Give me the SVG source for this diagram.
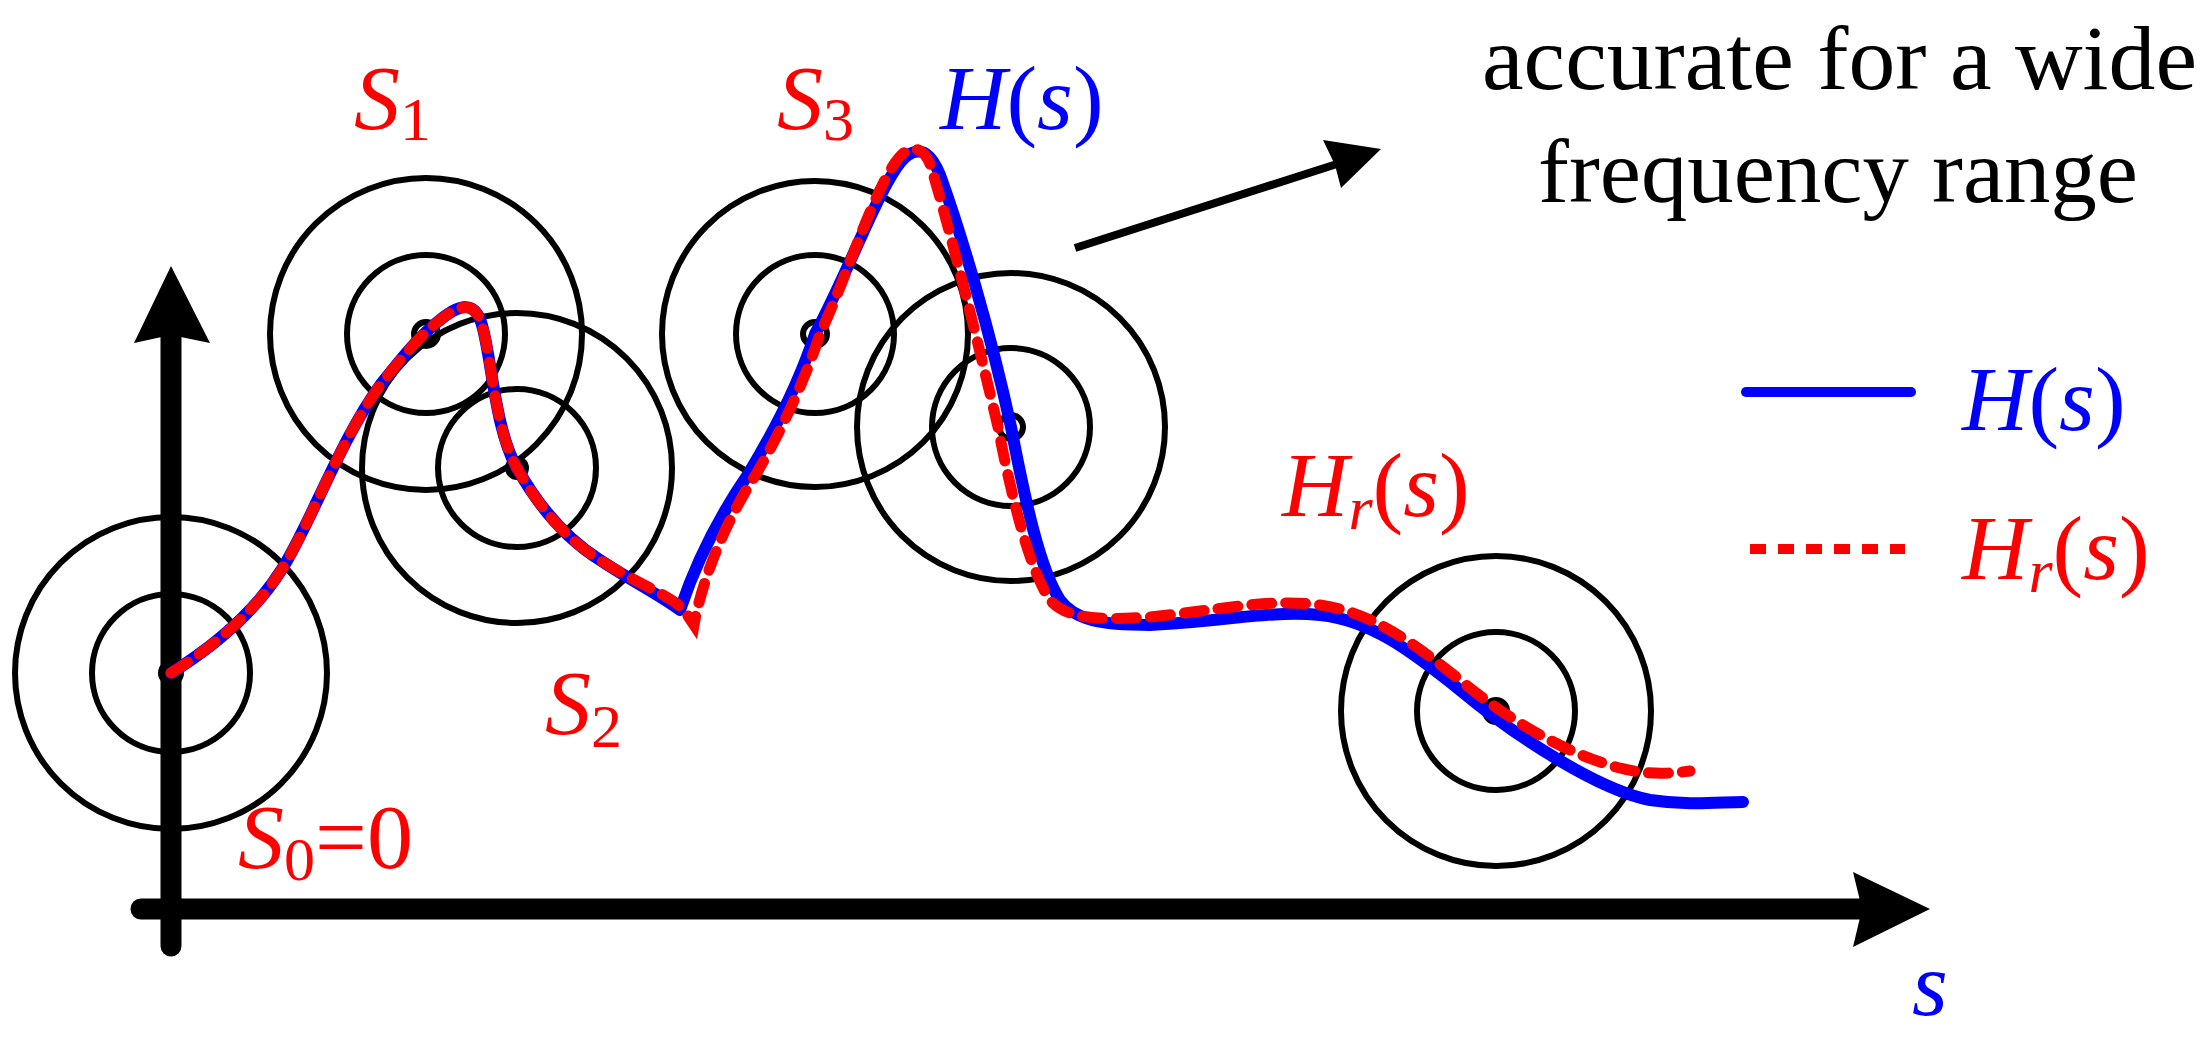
<svg xmlns="http://www.w3.org/2000/svg" width="2211" height="1037" viewBox="0 0 2211 1037">
<style>
.c{fill:none;stroke:#000;stroke-width:6}
.ax{stroke:#000;stroke-width:21;stroke-linecap:round;fill:none}
.blue{fill:none;stroke:#0000ff;stroke-width:12;stroke-linecap:round;stroke-linejoin:round}
.red{fill:none;stroke:#ff0000;stroke-width:11;stroke-dasharray:20 14;stroke-linecap:round}
.lr{fill:#ff0000}.lb{fill:#0000ff}
</style>
<rect width="2211" height="1037" fill="#fff"/>
<g id="axes">
<line class="ax" x1="171" y1="946" x2="171" y2="330"/>
<polygon points="171,266 210,343 171,335 134,343"/>
<line class="ax" x1="141" y1="909" x2="1870" y2="909"/>
<polygon points="1930,909 1853,947 1862,909 1853,872"/>
</g>
<g id="circles">
<g id="n0"><circle class="c" cx="171" cy="673" r="156"/><circle class="c" cx="171" cy="673" r="79"/><circle class="c" cx="171" cy="673" r="10"/></g>
<g id="n1"><circle class="c" cx="426" cy="334" r="156"/><circle class="c" cx="426" cy="334" r="79"/><circle class="c" cx="426" cy="334" r="12"/></g>
<g id="n2"><circle class="c" cx="517" cy="468" r="155"/><circle class="c" cx="517" cy="468" r="79"/><circle class="c" cx="517" cy="468" r="9"/></g>
<g id="n3"><circle class="c" cx="815" cy="334" r="153"/><circle class="c" cx="815" cy="334" r="79"/><circle class="c" cx="815" cy="334" r="12"/></g>
<g id="n4"><circle class="c" cx="1011" cy="427" r="154"/><circle class="c" cx="1011" cy="427" r="79"/><circle class="c" cx="1011" cy="427" r="12"/></g>
<g id="n5"><circle class="c" cx="1496" cy="711" r="155"/><circle class="c" cx="1496" cy="711" r="79"/><circle class="c" cx="1496" cy="711" r="11"/></g>
</g>
<g id="connectors">
<path class="blue" d="M171,673 C200,655 250,620 282,569 C310,525 340,440 381,384 C400,360 420,335 440,320 C460,304 475,300 482,325 C492,360 495,430 517,468 C535,500 560,535 600,560 C630,580 660,595 680,610 C690,580 710,530 747,476 C775,430 800,380 815,334 C850,270 885,170 908,155 C922,146 932,155 940,175 C960,230 990,330 1011,427 C1025,500 1040,570 1060,600 C1075,620 1100,625 1150,625 C1220,622 1270,610 1320,615 C1370,620 1410,650 1460,690 C1520,740 1600,790 1650,800 C1690,806 1720,802 1743,802"/>
<path class="red" d="M171,673 C200,655 250,620 282,569 C310,525 340,440 381,384 C400,360 420,335 440,320 C460,304 475,300 482,325 C492,360 495,430 517,468 C535,500 560,535 600,560 C630,580 670,595 684,610 L694,625 C700,590 720,530 755,476 C782,430 805,380 820,334 C850,270 880,170 905,152 C918,145 927,152 932,170 C950,230 975,330 998,427 C1012,500 1030,570 1050,600 C1068,620 1100,620 1150,617 C1220,610 1270,598 1320,605 C1370,612 1410,640 1460,680 C1520,730 1590,765 1640,772 C1665,775 1680,772 1690,771"/>
<line x1="1075" y1="248" x2="1340" y2="163" stroke="#000" stroke-width="8"/>
<polygon points="1381,149 1323,140 1335,165 1341,188"/>
<line x1="1746" y1="392" x2="1911" y2="392" stroke="#0000ff" stroke-width="10" stroke-linecap="round"/>
<line x1="1750" y1="549" x2="1905" y2="549" stroke="#ff0000" stroke-width="10" stroke-dasharray="16 12"/>
</g>
<g id="labels" font-size="92" font-family="'Liberation Serif', 'DejaVu Serif', serif">
<text x="1482" y="89" textLength="715" lengthAdjust="spacingAndGlyphs">accurate for a wide</text>
<text x="1538" y="202" textLength="600" lengthAdjust="spacingAndGlyphs">frequency range</text>
<text class="lr" x="354" y="129"><tspan font-style="italic">S</tspan><tspan font-size="62" dy="11">1</tspan></text>
<text class="lr" x="777" y="129"><tspan font-style="italic">S</tspan><tspan font-size="62" dy="11">3</tspan></text>
<text class="lb" x="940" y="129"><tspan font-style="italic">H</tspan>(<tspan font-style="italic">s</tspan>)</text>
<text class="lr" x="545" y="734"><tspan font-style="italic">S</tspan><tspan font-size="62" dy="13">2</tspan></text>
<text class="lr" x="238" y="868"><tspan font-style="italic">S</tspan><tspan font-size="62" dy="12">0</tspan><tspan dy="-12">=0</tspan></text>
<text class="lr" x="1282" y="516"><tspan font-style="italic">H</tspan><tspan font-size="62" font-style="italic" dy="13">r</tspan><tspan dy="-13">(</tspan><tspan font-style="italic">s</tspan>)</text>
<text class="lb" x="1962" y="430"><tspan font-style="italic">H</tspan>(<tspan font-style="italic">s</tspan>)</text>
<text class="lr" x="1962" y="579"><tspan font-style="italic">H</tspan><tspan font-size="62" font-style="italic" dy="13">r</tspan><tspan dy="-13">(</tspan><tspan font-style="italic">s</tspan>)</text>
<text class="lb" x="1912" y="1015" font-style="italic">s</text>
</g>
</svg>
